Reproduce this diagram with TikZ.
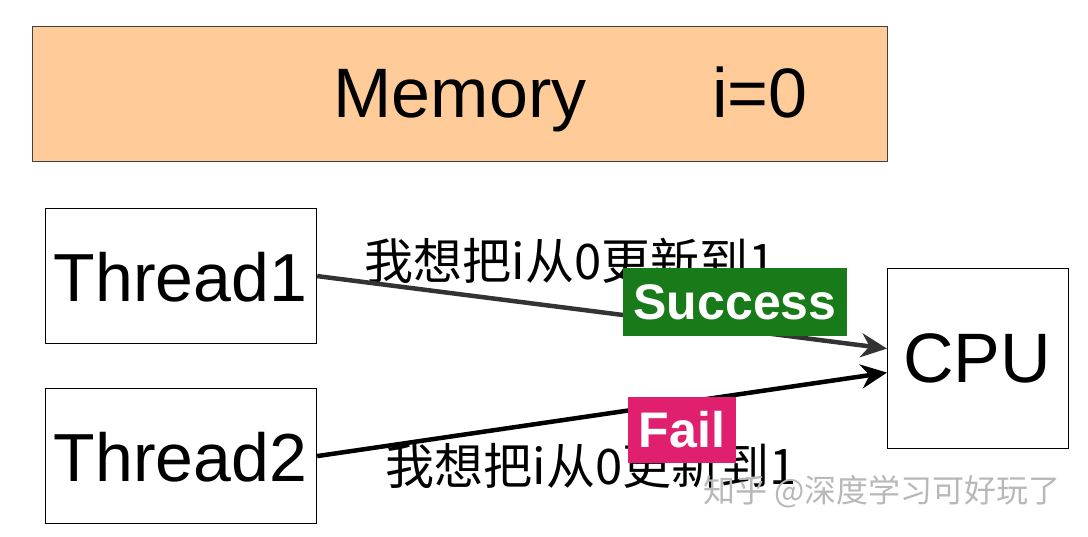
\documentclass[tikz,border=0pt]{standalone}
\usepackage{fontspec}
\setmainfont{Liberation Sans}
\newfontfamily\cjk{Noto Sans CJK SC}
\usetikzlibrary{arrows.meta}
\definecolor{memfill}{HTML}{FFCC99}
\definecolor{okgreen}{HTML}{187A18}
\definecolor{failpink}{HTML}{E01F6E}
\definecolor{arrgray}{HTML}{333333}
\begin{document}
\begin{tikzpicture}[x=1pt,y=-1pt,
  box/.style={draw=black, line width=1.2pt, inner sep=0pt, fill=white, anchor=north west},
  bigtxt/.style={font=\fontsize{68}{68}\selectfont, anchor=base, inner sep=0pt},
  lbl/.style={font=\cjk\fontsize{49}{49}\selectfont, anchor=base, inner sep=0pt},
  tag/.style={font=\bfseries\fontsize{50}{50}\selectfont, text=white, inner sep=0pt, minimum height=68pt},
  conn/.style={line width=4.5pt, -{Stealth[length=26pt,width=24pt]}}
]
\useasboundingbox (0,0) rectangle (1088,537);
% memory
\node[draw=black!75, line width=1.2pt, fill=memfill, minimum width=855pt, minimum height=135pt, inner sep=0pt, anchor=north west] (mem) at (32,26) {};
\node[bigtxt, font=\fontsize{70}{70}\selectfont] (memtxt) at (460,118) {Memory};
\node[bigtxt, font=\fontsize{70}{70}\selectfont] (ival) at (760,118) {i=0};
% boxes
\node[box, minimum width=271pt, minimum height=135pt] (t1) at (45,208) {};
\node[bigtxt] (t1txt) at (180.5,302) {Thread1};
\node[box, minimum width=271pt, minimum height=135pt] (t2) at (45,388) {};
\node[bigtxt] (t2txt) at (180.5,482) {Thread2};
\node[box, minimum width=181pt, minimum height=180pt] (cpu) at (887,268) {};
\node[bigtxt, font=\fontsize{70}{70}\selectfont] (cputxt) at (977,383) {CPU};
% labels
\node[lbl] (l1) at (570,280) {我想把i从0更新到1};
\node[lbl] (l2) at (591,485) {我想把i从0更新到1};
% connectors
\draw[conn, draw=arrgray] (t1.east) -- ([yshift=10pt]cpu.west);
\draw[conn, draw=black] (t2.east) -- ([yshift=-14pt]cpu.west);
% tags
\node[tag, fill=okgreen, minimum width=224pt] (succ) at (735,302.5) {Success};
\node[tag, fill=failpink, minimum width=108pt, minimum height=66pt] (fail) at (682,430) {Fail};
% watermark
\node[font=\cjk\fontsize{32}{32}\selectfont, text=black!28, anchor=base west, inner sep=0pt] (wm) at (703,502) {知乎 @深度学习可好玩了};
\end{tikzpicture}
\end{document}
